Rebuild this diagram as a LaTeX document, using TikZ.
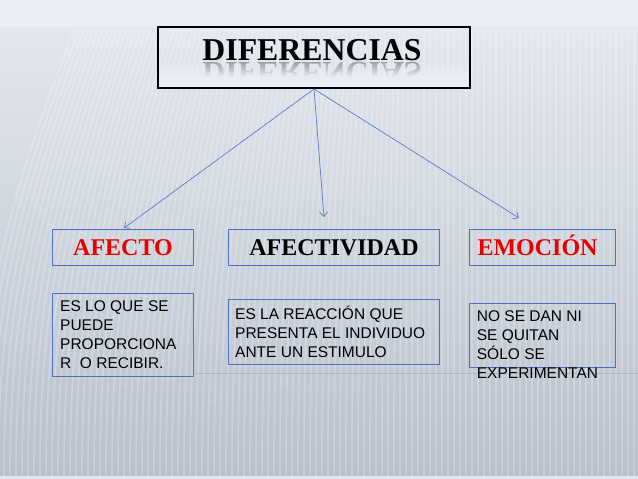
\documentclass[tikz,border=0pt]{standalone}
\usepackage{fontspec}
\setmainfont{Liberation Serif}
\setsansfont{Liberation Sans}
\usetikzlibrary{arrows.meta,fadings}
\definecolor{bgtop}{HTML}{E9EDF4}
\definecolor{bgA}{HTML}{E3E7EE}
\definecolor{bgmid}{HTML}{D3D9E1}
\definecolor{bgbot}{HTML}{B8C0CB}
\definecolor{boxblue}{RGB}{79,113,190}
\definecolor{arrowblue}{RGB}{92,122,196}
\definecolor{titlered}{RGB}{232,0,0}
\tikzfading[name=reflfade, top color=transparent!100, bottom color=transparent!0]
\begin{document}
\begin{tikzpicture}[x=1pt,y=-1pt,
  rowbox/.style={draw=boxblue, line width=0.8pt, inner sep=0pt},
  rowtitle/.style={font=\bfseries\fontsize{24}{28}\selectfont, text height=16pt, text depth=0pt, inner sep=0pt},
  titlefont/.style={font=\bfseries\fontsize{31.8}{36}\selectfont, inner sep=0pt, anchor=base},
  bodytext/.style={font=\sffamily\fontsize{15.5}{19}\selectfont, anchor=base west, inner sep=0pt, text=black},
  link/.style={draw=arrowblue, line width=0.7pt, -{Straight Barb[length=4.5pt,width=8pt]}},
]
\useasboundingbox (0,0) rectangle (638,479);
% background
\fill[bgtop] (0,0) rectangle (638,479);
\shade[top color=bgA, middle color=bgmid, bottom color=bgbot] (0,27) rectangle (638,476);
\foreach \i in {0,...,110} {
  \pgfmathsetmacro\xb{-20+\i*6}
  \pgfmathsetmacro\off{max(0,90*(1-\xb/420))}
  \draw[white, opacity=0.22, line width=1.8pt] (\xb+\off,30) .. controls (\xb+0.3*\off,200) and (\xb,300) .. (\xb,476);
}
\fill[bgtop!85!bgbot] (0,476) rectangle (638,479);
\draw[gray!70, opacity=0.6, line width=0.5pt] (195,373) -- (638,373);

% title
\node[titlefont, yscale=-1, text=gray!60!black, opacity=0.45] (titlerefl) at (312,62.5) {DIFERENCIAS};
\fill[bgtop, path fading=reflfade] (160,62) rectangle (468,77);
\fill[bgtop] (160,77) rectangle (468,87);
\node[titlefont] (titletext) at (312,60.7) {DIFERENCIAS};
\node[draw=black, line width=2pt, minimum width=312pt, minimum height=61pt, inner sep=0pt] (title) at (314,57.5) {};

% row titles
\node[rowbox, minimum width=140.3pt, minimum height=35.7pt] (afecto) at (122.85,247.15) {};
\node[rowbox, minimum width=211pt, minimum height=35.7pt] (afectividad) at (333.8,247.15) {};
\node[rowbox, minimum width=146.4pt, minimum height=35.7pt] (emocion) at (542.5,247.15) {};
\node[rowtitle, text=titlered] (afectot) at (123,247.15) {AFECTO};
\node[rowtitle, text=black] (afectividadt) at (334,247.15) {AFECTIVIDAD};
\node[rowtitle, text=titlered] (emociont) at (537.5,247.15) {EMOCIÓN};

% arrows
\coordinate (midend) at (324,217);
\coordinate (rightend) at (519,218);
\draw[link, shorten >=1.5pt] (title.south) -- (afecto.north);
\draw[link] (title.south) -- (midend);
\draw[link] (title.south) -- (rightend);

% description boxes
\node[rowbox, minimum width=140.3pt, minimum height=83.4pt] (afectobox) at (122.85,335) {};
\node[rowbox, minimum width=211pt, minimum height=64.7pt] (afectividadbox) at (333.8,331.65) {};
\node[rowbox, minimum width=146.4pt, minimum height=64pt] (emocionbox) at (542.5,335.3) {};

\node[bodytext] (afectotxt) at (60,311.7) {\begin{tabular}[t]{@{}l@{}}ES LO QUE SE\\PUEDE\\PROPORCIONA\\R\ \ O RECIBIR.\end{tabular}};
\node[bodytext] (afectividadtxt) at (235,319.3) {\begin{tabular}[t]{@{}l@{}}ES LA REACCIÓN QUE\\PRESENTA EL INDIVIDUO\\ANTE UN ESTIMULO\end{tabular}};
\node[bodytext] (emociontxt) at (476.7,321.7) {\begin{tabular}[t]{@{}l@{}}NO SE DAN NI\\SE QUITAN\\SÓLO SE\\EXPERIMENTAN\end{tabular}};
\end{tikzpicture}
\end{document}
